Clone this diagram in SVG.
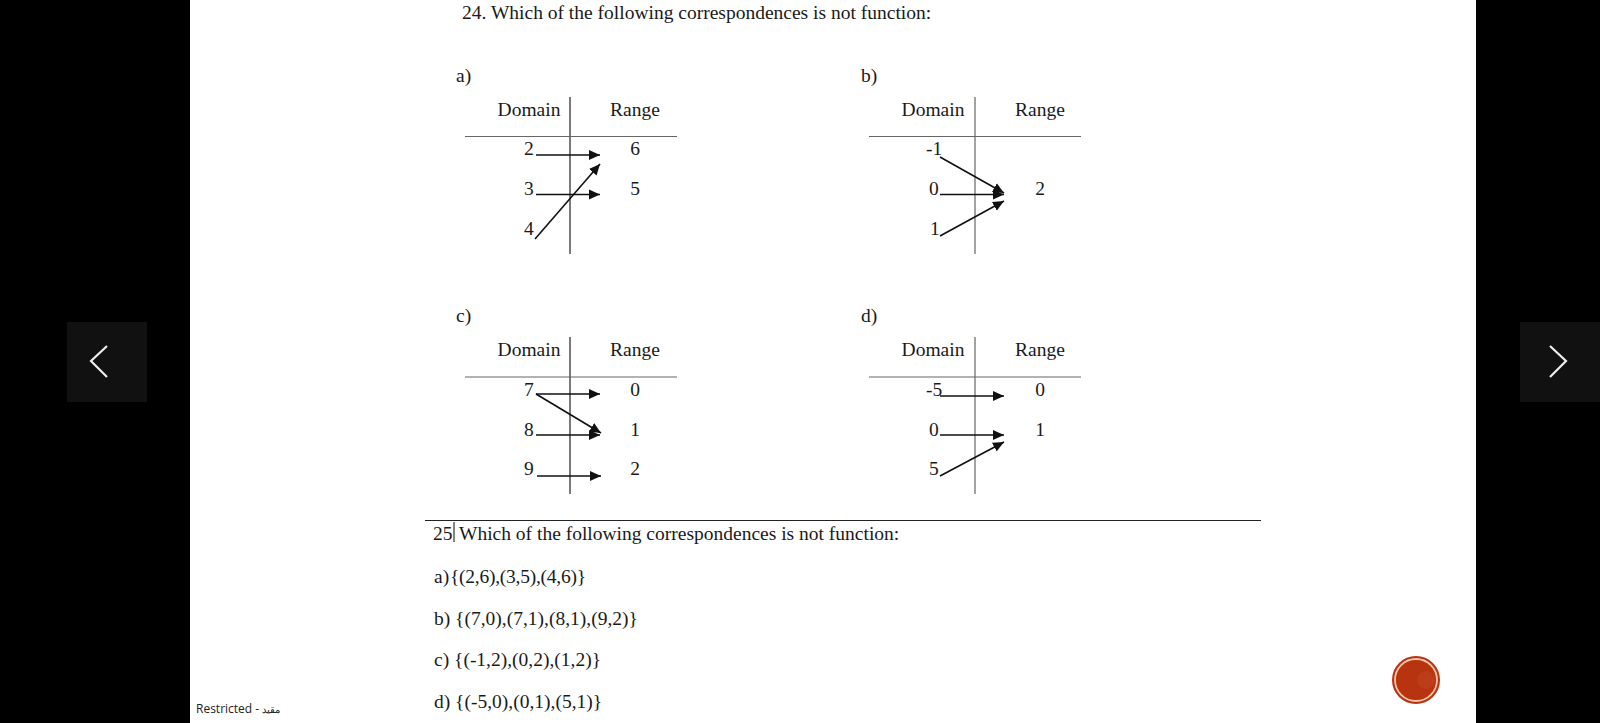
<svg xmlns="http://www.w3.org/2000/svg" width="1600" height="723" viewBox="0 0 1600 723">
<style>
text{font-family:"Liberation Serif","Times New Roman",serif;fill:#1a1a1a;font-size:19.5px}
.m{text-anchor:middle}
.ax{stroke:#666;stroke-width:1.2;fill:none}
.ay{stroke:#222;stroke-width:1.2;fill:none}
.c{stroke:#111;stroke-width:1.6;fill:none;marker-end:url(#h)}
.nav{fill:none;stroke:#eee;stroke-width:2.2}
</style>
<defs><marker id="h" markerUnits="userSpaceOnUse" markerWidth="13" markerHeight="12" refX="11" refY="5.500" orient="auto"><path d="M0 0.500L11 5.500L0 10.500z" fill="#111"/></marker></defs>
<rect width="1600" height="723" fill="#000"/>
<rect x="190" width="1286" height="723" fill="#fff"/>
<g id="nav-prev"><rect x="67" y="322" width="80" height="80" fill="#111"/><path class="nav" d="M107 346L91 361L107 377"/></g>
<g id="nav-next"><rect x="1520" y="322" width="80" height="80" fill="#111"/><path class="nav" d="M1550 346L1566 361L1550 377"/></g>
<g id="q24"><text x="462" y="19">24. Which of the following correspondences is not function:</text></g>
<g id="panel-a"><text x="456" y="82">a)</text>
<path class="ay" d="M570 97V254"/><path class="ax" d="M465 136.500H677"/>
<text class="m" x="529" y="116">Domain</text><text class="m" x="635" y="116">Range</text>
<text x="524" y="155">2</text><text class="m" x="635" y="155">6</text>
<text x="524" y="195">3</text><text class="m" x="635" y="195">5</text>
<text x="524" y="235">4</text></g>
<g id="panel-b"><text x="861" y="82">b)</text>
<path class="ax" d="M975 97V254M869 136.500H1081"/>
<text class="m" x="933" y="116">Domain</text><text class="m" x="1040" y="116">Range</text>
<text x="926" y="155">-1</text>
<text x="929" y="195">0</text><text class="m" x="1040" y="195">2</text>
<text x="930" y="235">1</text></g>
<g id="panel-c"><text x="456" y="322">c)</text>
<path class="ay" d="M570 337V494"/><path class="ax" d="M465 377H677"/>
<text class="m" x="529" y="356">Domain</text><text class="m" x="635" y="356">Range</text>
<text x="524" y="396">7</text><text class="m" x="635" y="396">0</text>
<text x="524" y="436">8</text><text class="m" x="635" y="436">1</text>
<text x="524" y="475">9</text><text class="m" x="635" y="475">2</text></g>
<g id="panel-d"><text x="861" y="322">d)</text>
<path class="ax" d="M975 337V494M869 377H1081"/>
<text class="m" x="933" y="356">Domain</text><text class="m" x="1040" y="356">Range</text>
<text x="926" y="396">-5</text><text class="m" x="1040" y="396">0</text>
<text x="929" y="436">0</text><text class="m" x="1040" y="436">1</text>
<text x="929" y="475">5</text></g>
<g id="connectors">
<path class="c" d="M536 155H600"/><path class="c" d="M536 194.500H600"/><path class="c" d="M535 239L600 164"/>
<path class="c" d="M940 157L1004 193"/><path class="c" d="M940 194.500H1004"/><path class="c" d="M940 236L1004 201"/>
<path class="c" d="M536 394H600"/><path class="c" d="M536 394L601 433"/><path class="c" d="M536 435H600"/><path class="c" d="M537 476H601"/>
<path class="c" d="M940 396H1004"/><path class="c" d="M940 435H1004"/><path class="c" d="M940 476L1004 442"/>
</g>
<g id="q25">
<path d="M425 520.500H1261" stroke="#222" stroke-width="1.2"/>
<path d="M454 522V542" stroke="#333" stroke-width="1.2"/>
<text x="433" y="540">25</text><text x="459" y="540">Which of the following correspondences is not function:</text>
<text x="434" y="583">a)</text><text x="450" y="583" textLength="136">{(2,6),(3,5),(4,6)}</text>
<text x="434" y="625">b) {(7,0),(7,1),(8,1),(9,2)}</text>
<text x="434" y="666">c) {(-1,2),(0,2),(1,2)}</text>
<text x="434" y="708">d) {(-5,0),(0,1),(5,1)}</text>
</g>
<g id="footer"><text x="196" y="713" style="font-family:'Open Sans','Noto Sans',sans-serif;font-size:12px;fill:#222">Restricted - <tspan font-size="10">مقيد</tspan></text></g>
<g id="badge"><circle cx="1416" cy="680" r="24" fill="#b8330f"/><circle cx="1416" cy="680" r="21" fill="none" stroke="#f3c3a8" stroke-width="1.800"/><circle cx="1426" cy="680" r="9" fill="#c9552f" opacity=".3"/></g>
</svg>
